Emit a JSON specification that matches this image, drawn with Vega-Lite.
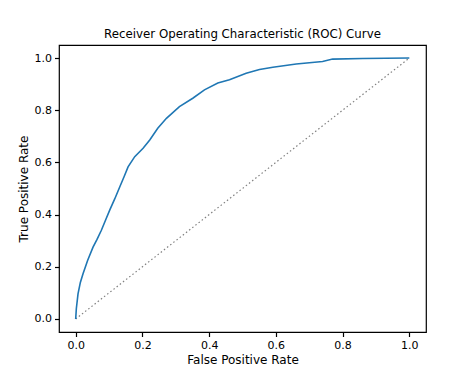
{
  "$schema": "https://vega.github.io/schema/vega-lite/v6.json",
  "autosize": "none",
  "padding": {"left": 59, "top": 45, "right": 48, "bottom": 47},
  "width": 367,
  "height": 287,
  "title": {"text": "Receiver Operating Characteristic (ROC) Curve", "font": "DejaVu Sans", "fontSize": 11.8, "fontWeight": "normal", "color": "#000000", "offset": 4},
  "config": {
    "view": {"stroke": "#000000", "strokeWidth": 1.2},
    "axis": {
      "grid": false, "domain": false, "tickColor": "#000000", "tickSize": 4.5, "tickWidth": 1.2,
      "labelFont": "DejaVu Sans", "labelFontSize": 11, "labelColor": "#000000",
      "titleFont": "DejaVu Sans", "titleFontSize": 12, "titleFontWeight": "normal", "titleColor": "#000000"
    }
  },
  "datasets": {
    "roc": [
      {"fpr": 0.0, "tpr": 0.0},
      {"fpr": 0.002, "tpr": 0.04},
      {"fpr": 0.007, "tpr": 0.096},
      {"fpr": 0.014, "tpr": 0.14},
      {"fpr": 0.022, "tpr": 0.173},
      {"fpr": 0.036, "tpr": 0.225},
      {"fpr": 0.052, "tpr": 0.275},
      {"fpr": 0.064, "tpr": 0.305},
      {"fpr": 0.077, "tpr": 0.34},
      {"fpr": 0.09, "tpr": 0.38},
      {"fpr": 0.102, "tpr": 0.417},
      {"fpr": 0.117, "tpr": 0.46},
      {"fpr": 0.132, "tpr": 0.506},
      {"fpr": 0.145, "tpr": 0.545},
      {"fpr": 0.157, "tpr": 0.583},
      {"fpr": 0.177, "tpr": 0.622},
      {"fpr": 0.202, "tpr": 0.654},
      {"fpr": 0.222, "tpr": 0.686},
      {"fpr": 0.246, "tpr": 0.731},
      {"fpr": 0.272, "tpr": 0.769},
      {"fpr": 0.311, "tpr": 0.814},
      {"fpr": 0.351, "tpr": 0.846},
      {"fpr": 0.386, "tpr": 0.878},
      {"fpr": 0.426, "tpr": 0.904},
      {"fpr": 0.461, "tpr": 0.917},
      {"fpr": 0.511, "tpr": 0.942},
      {"fpr": 0.551, "tpr": 0.956},
      {"fpr": 0.591, "tpr": 0.965},
      {"fpr": 0.661, "tpr": 0.977},
      {"fpr": 0.74, "tpr": 0.987},
      {"fpr": 0.77, "tpr": 0.996},
      {"fpr": 0.86, "tpr": 0.998},
      {"fpr": 1.0, "tpr": 1.0}
    ],
    "diag": [
      {"fpr": 0.0, "tpr": 0.0},
      {"fpr": 1.0, "tpr": 1.0}
    ]
  },
  "layer": [
    {
      "data": {"name": "diag"},
      "mark": {"type": "line", "color": "#808080", "strokeWidth": 1.2, "strokeDash": [1.5, 2.5], "clip": true},
      "encoding": {
        "x": {"field": "fpr", "type": "quantitative", "scale": {"domain": [-0.05, 1.05], "nice": false, "zero": false},
              "axis": {"values": [0, 0.2, 0.4, 0.6, 0.8, 1.0], "format": ".1f", "title": "False Positive Rate", "titlePadding": 4, "labelPadding": 3}},
        "y": {"field": "tpr", "type": "quantitative", "scale": {"domain": [-0.05, 1.05], "nice": false, "zero": false},
              "axis": {"values": [0, 0.2, 0.4, 0.6, 0.8, 1.0], "format": ".1f", "title": "True Positive Rate", "titlePadding": 4, "labelPadding": 3}}
      }
    },
    {
      "data": {"name": "roc"},
      "mark": {"type": "line", "color": "#1f77b4", "strokeWidth": 1.6, "clip": true},
      "encoding": {
        "x": {"field": "fpr", "type": "quantitative"},
        "y": {"field": "tpr", "type": "quantitative"}
      }
    }
  ]
}
